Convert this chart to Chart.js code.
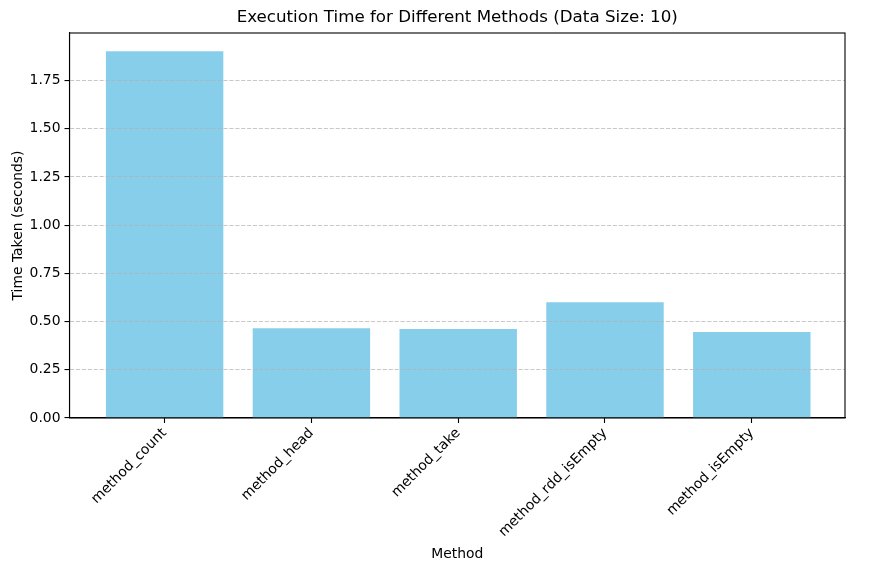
<!DOCTYPE html>
<html>
<head>
<meta charset="utf-8">
<script src="https://cdn.jsdelivr.net/npm/chart.js@4.4.0/dist/chart.umd.min.js"></script>
<style>
  html, body { margin: 0; padding: 0; background: #fff; }
  #wrap { width: 882px; height: 566px; }
</style>
</head>
<body>
<div id="wrap"><canvas id="chart" width="882" height="566"></canvas></div>
<script>
const methods = ['method_count', 'method_head', 'method_take', 'method_rdd_isEmpty', 'method_isEmpty'];
const times = [1.902, 0.466, 0.461, 0.601, 0.446]; // seconds
const yTicks = [0, 0.25, 0.5, 0.75, 1.0, 1.25, 1.5, 1.75];
const titleText = 'Execution Time for Different Methods (Data Size: 10)';

Chart.defaults.font.family = "'DejaVu Sans', sans-serif";
Chart.defaults.color = '#000';

// matplotlib-style box around the plot + title centred over the plot area
const frame = {
  id: 'frame',
  afterDraw(chart) {
    const a = chart.chartArea, c = chart.ctx;
    c.save();
    c.strokeStyle = '#000';
    c.lineWidth = 1.1;
    c.strokeRect(a.left, a.top, a.right - a.left, a.bottom - a.top);
    c.fillStyle = '#000';
    c.font = "16.7px 'DejaVu Sans', sans-serif";
    c.textAlign = 'center';
    c.textBaseline = 'middle';
    c.fillText(titleText, (a.left + a.right) / 2, 18);
    c.restore();
  }
};

const ctx = document.getElementById('chart').getContext('2d');
new Chart(ctx, {
  type: 'bar',
  data: {
    datasets: [{
      data: methods.map((m, i) => ({ x: i, y: times[i] })),
      backgroundColor: '#87CEEB',
      borderWidth: 0,
      categoryPercentage: 1,
      barPercentage: 0.8
    }]
  },
  options: {
    responsive: false,
    animation: false,
    layout: { padding: { top: 33, right: 37, bottom: 0, left: 0 } },
    plugins: {
      legend: { display: false },
      tooltip: { enabled: false },
      title: { display: false }
    },
    scales: {
      x: {
        type: 'linear',
        min: -0.648,
        max: 4.635,
        offset: false,
        afterBuildTicks: s => { s.ticks = methods.map((m, i) => ({ value: i })); },
        afterFit: s => { s.height = 148; },
        ticks: {
          autoSkip: false,
          minRotation: 45,
          maxRotation: 45,
          padding: 2,
          font: { size: 13.9 },
          callback: v => methods[v]
        },
        grid: {
          drawOnChartArea: false,
          offset: false,
          tickLength: 5,
          tickColor: '#000',
          tickWidth: 1.1
        },
        border: { color: '#000', width: 1.1 },
        title: {
          display: true,
          text: 'Method',
          font: { size: 13.9 },
          padding: { top: 0, bottom: 3 }
        }
      },
      y: {
        min: 0,
        max: 1.997,
        afterBuildTicks: s => { s.ticks = yTicks.map(v => ({ value: v })); },
        afterFit: s => { s.width = 69.5; },
        ticks: {
          padding: 4,
          font: { size: 13.9 },
          callback: v => v.toFixed(2)
        },
        grid: {
          color: c => (c.tick && c.tick.value === 0) ? 'rgba(0,0,0,0)' : 'rgba(176,176,176,0.7)',
          lineWidth: 1.1,
          tickLength: 5,
          tickColor: '#000',
          tickWidth: 1.1,
          z: 1
        },
        border: { color: '#000', width: 1.1, dash: [4.1, 1.8], z: 1 },
        title: {
          display: true,
          text: 'Time Taken (seconds)',
          font: { size: 13.9 },
          padding: { top: 10, bottom: 0 }
        }
      }
    }
  },
  plugins: [frame]
});
</script>
</body>
</html>
